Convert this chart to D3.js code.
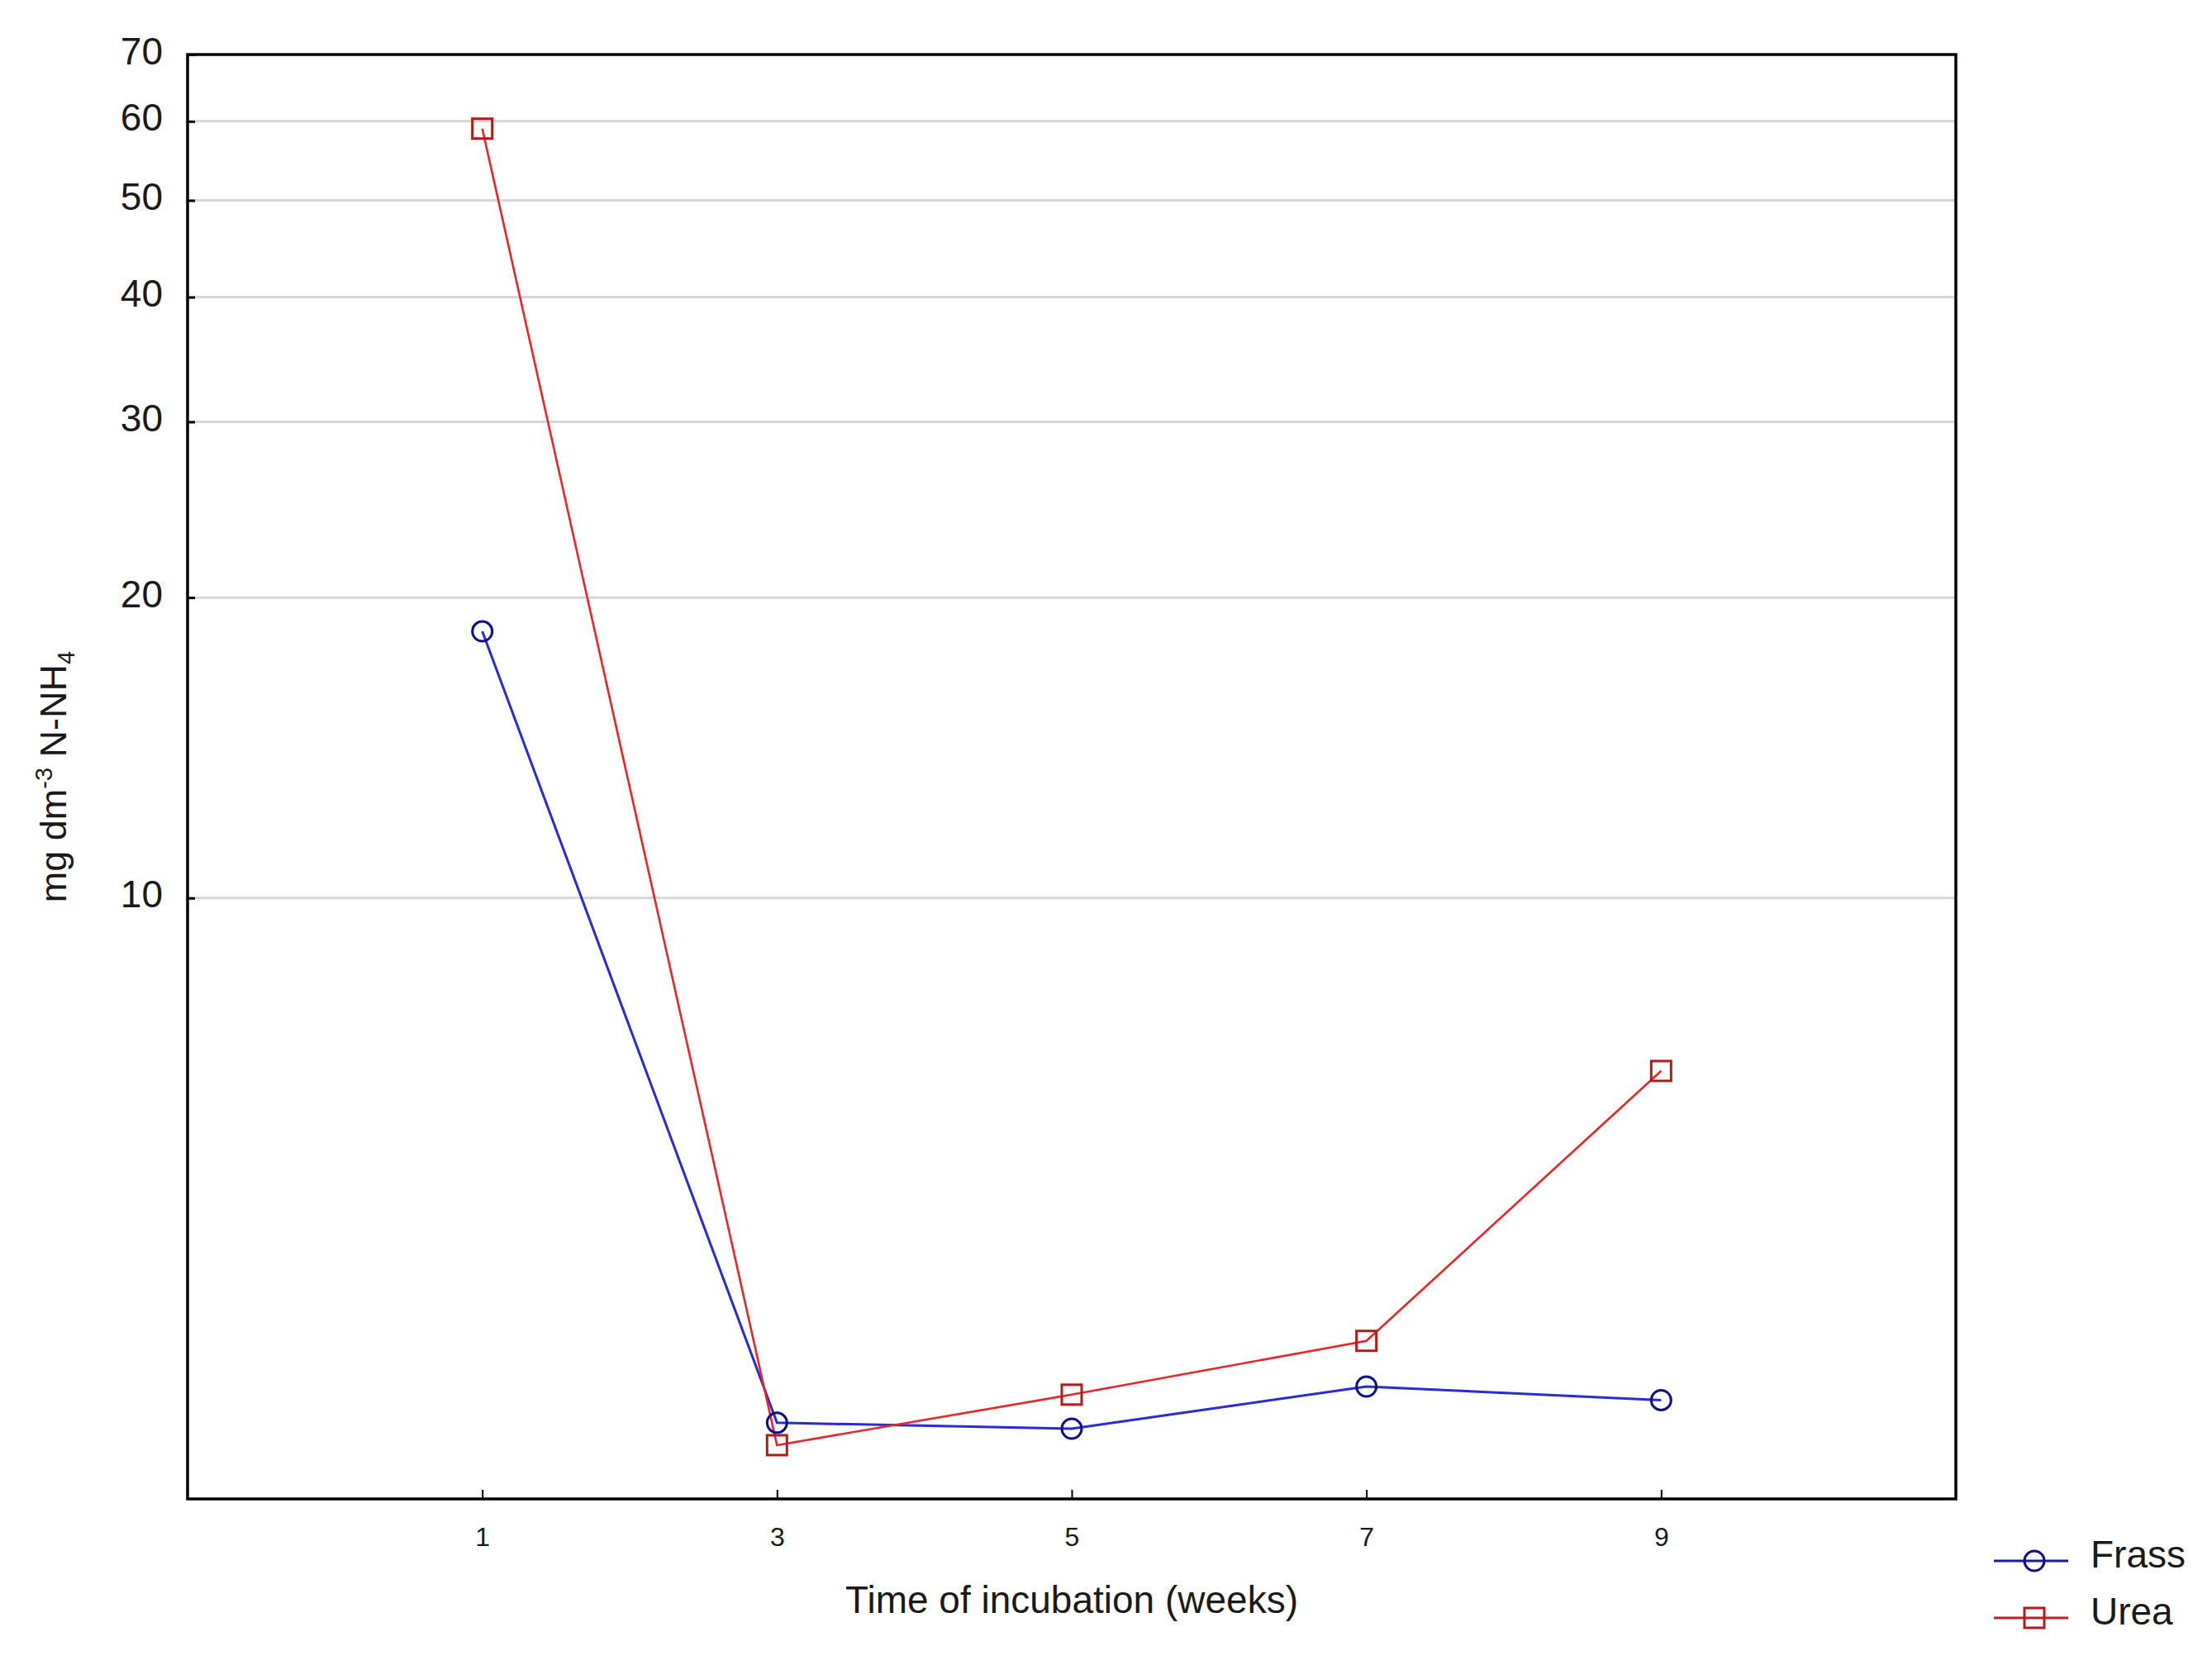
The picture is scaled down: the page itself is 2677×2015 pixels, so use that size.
<!DOCTYPE html>
<html>
<head>
<meta charset="utf-8">
<script src="https://cdn.jsdelivr.net/npm/d3@7"></script>
<style>
  body { margin: 0; background: #fff; }
  text { font-family: "Liberation Sans", Arial, sans-serif; fill: #1a1a1a; }
</style>
</head>
<body>
<div id="chart"></div>
<script>
// weeks of incubation
var weeks = [1, 3, 5, 7, 9]
// mg dm-3 N-NH4
var frass = [18.5, 2.98, 2.94, 3.24, 3.14]
var urea = [59.0, 2.83, 3.18, 3.60, 6.71]
var yTicks = [10, 20, 30, 40, 50, 60, 70]
var gridValues = [10, 20, 30, 40, 50, 60]
var seriesNames = ['Frass', 'Urea']

var width = 2677
var height = 2015
var margin = { top: 66, right: 310, bottom: 201, left: 227 }

var svg = d3.select('#chart').append('svg')
    .attr('width', width)
    .attr('height', height)

var x = d3.scaleLinear().domain([-1, 11]).range([margin.left, width - margin.right])
var y = d3.scaleLog().domain([2.5, 70]).range([height - margin.bottom, margin.top])

//grille horizontale
svg.append('g').selectAll('line')
    .data(gridValues)
    .enter().append('line')
    .attr('x1', margin.left)
    .attr('x2', width - margin.right)
    .attr('y1', function (d) { return y(d) })
    .attr('y2', function (d) { return y(d) })
    .attr('stroke', '#d6d6d6')
    .attr('stroke-width', 3)

//axe y
var yAxis = svg.append('g')
    .attr('transform', 'translate(' + margin.left + ',0)')
    .call(d3.axisLeft(y).tickValues(yTicks).tickFormat(d3.format('d')).tickSize(-9).tickPadding(30))
yAxis.select('.domain').remove()
yAxis.selectAll('.tick line').attr('stroke', '#000').attr('stroke-width', 3)
yAxis.selectAll('.tick text')
    .attr('dy', 11)
    .style('font-size', '46px')

//axe x
var xAxis = svg.append('g')
    .attr('transform', 'translate(0,' + (height - margin.bottom) + ')')
    .call(d3.axisBottom(x).tickValues(weeks).tickFormat(d3.format('d')).tickSize(-11).tickPadding(46))
xAxis.select('.domain').remove()
xAxis.selectAll('.tick line').attr('stroke', '#000').attr('stroke-width', 2)
xAxis.selectAll('.tick text')
    .attr('dy', 11)
    .style('font-size', '32px')

//cadre
svg.append('rect')
    .attr('x', margin.left)
    .attr('y', margin.top)
    .attr('width', width - margin.left - margin.right)
    .attr('height', height - margin.top - margin.bottom)
    .attr('fill', 'none')
    .attr('stroke', '#000')
    .attr('stroke-width', 3.5)

var line = d3.line()
    .x(function (d, i) { return x(weeks[i]) })
    .y(function (d) { return y(d) })

svg.append('path')
    .datum(frass)
    .attr('d', line)
    .attr('fill', 'none')
    .attr('stroke', '#2a2ad8')
    .attr('stroke-width', 3)

svg.append('path')
    .datum(urea)
    .attr('d', line)
    .attr('fill', 'none')
    .attr('stroke', '#e8262a')
    .attr('stroke-width', 2.6)

svg.append('g').selectAll('circle')
    .data(frass)
    .enter().append('circle')
    .attr('cx', function (d, i) { return x(weeks[i]) })
    .attr('cy', function (d) { return y(d) })
    .attr('r', 12)
    .attr('fill', 'none')
    .attr('stroke', '#10108a')
    .attr('stroke-width', 3)

svg.append('g').selectAll('rect')
    .data(urea)
    .enter().append('rect')
    .attr('x', function (d, i) { return x(weeks[i]) - 12 })
    .attr('y', function (d) { return y(d) - 12 })
    .attr('width', 24)
    .attr('height', 24)
    .attr('fill', 'none')
    .attr('stroke', '#b41a1a')
    .attr('stroke-width', 3)

//titres des axes
svg.append('text')
    .attr('x', (margin.left + width - margin.right) / 2)
    .attr('y', 1952)
    .attr('text-anchor', 'middle')
    .style('font-size', '46px')
    .text('Time of incubation (weeks)')

var yLabel = svg.append('text')
    .attr('transform', 'translate(80,' + ((margin.top + height - margin.bottom) / 2) + ') rotate(-90)')
    .attr('text-anchor', 'middle')
    .style('font-size', '45px')
yLabel.append('tspan').text('mg dm')
yLabel.append('tspan').attr('dy', -17).style('font-size', '29px').text('-3')
yLabel.append('tspan').attr('dy', 17).text(' N-NH')
yLabel.append('tspan').attr('dy', 10).style('font-size', '29px').text('4')

//légende
var legend = svg.append('g')
var legendY = [1889, 1958]
legend.selectAll('line')
    .data(seriesNames)
    .enter().append('line')
    .attr('x1', 2413)
    .attr('x2', 2503)
    .attr('y1', function (d, i) { return legendY[i] })
    .attr('y2', function (d, i) { return legendY[i] })
    .attr('stroke', function (d, i) { return i === 0 ? '#1a1aa8' : '#c02020' })
    .attr('stroke-width', 3)
legend.append('circle')
    .attr('cx', 2462).attr('cy', legendY[0]).attr('r', 12)
    .attr('fill', 'none').attr('stroke', '#10108a').attr('stroke-width', 3)
legend.append('rect')
    .attr('x', 2450).attr('y', legendY[1] - 12).attr('width', 24).attr('height', 24)
    .attr('fill', 'none').attr('stroke', '#b41a1a').attr('stroke-width', 3)
legend.selectAll('text')
    .data(seriesNames)
    .enter().append('text')
    .attr('x', 2530)
    .attr('y', function (d, i) { return legendY[i] + 8 })
    .style('font-size', '46px')
    .text(function (d) { return d })
</script>
</body>
</html>
